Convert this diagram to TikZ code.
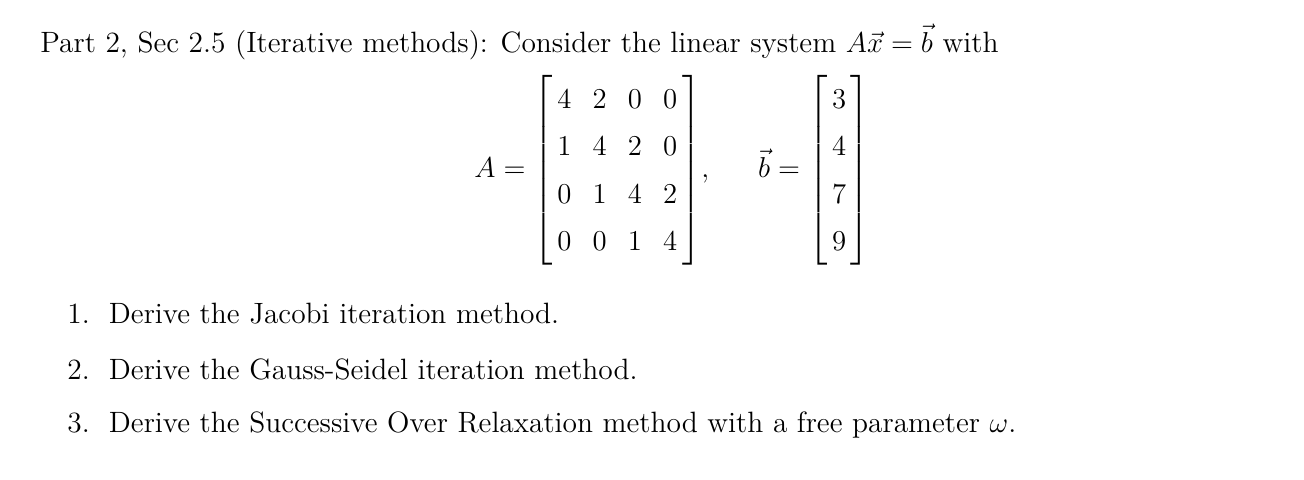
\documentclass[tikz,border=0pt]{standalone}
\usepackage{amsmath}
\begin{document}
\begin{tikzpicture}[x=0.5pt,y=-0.5pt,txt/.style={anchor=west,inner sep=0pt,font=\fontsize{14.7}{17}\selectfont}]
\useasboundingbox (0,0) rectangle (1304,480);
\node[txt] (t) at (40,42) {Part 2, Sec 2.5 (Iterative methods): Consider the linear system $A\vec{x}=\vec{b}$ with};
\node[txt] (eq) at (474,170) {$A=\renewcommand{\arraystretch}{1.4}\left[\begin{array}{@{\,}c@{\hspace{0.72em}}c@{\hspace{0.72em}}c@{\hspace{0.72em}}c@{\,}}4&2&0&0\\1&4&2&0\\0&1&4&2\\0&0&1&4\end{array}\right]\!,\hspace{1.5em} \vec{b}=\left[\begin{array}{@{\,}c@{\,}}3\\4\\7\\9\end{array}\right]$};
\node[txt] (i1) at (67,314) {1.\ \ Derive the Jacobi iteration method.};
\node[txt] (i2) at (67,369) {2.\ \ Derive the Gauss-Seidel iteration method.};
\node[txt] (i3) at (67,425) {3.\ \ Derive the Successive Over Relaxation method with a free parameter $\omega$.};
\end{tikzpicture}
\end{document}
